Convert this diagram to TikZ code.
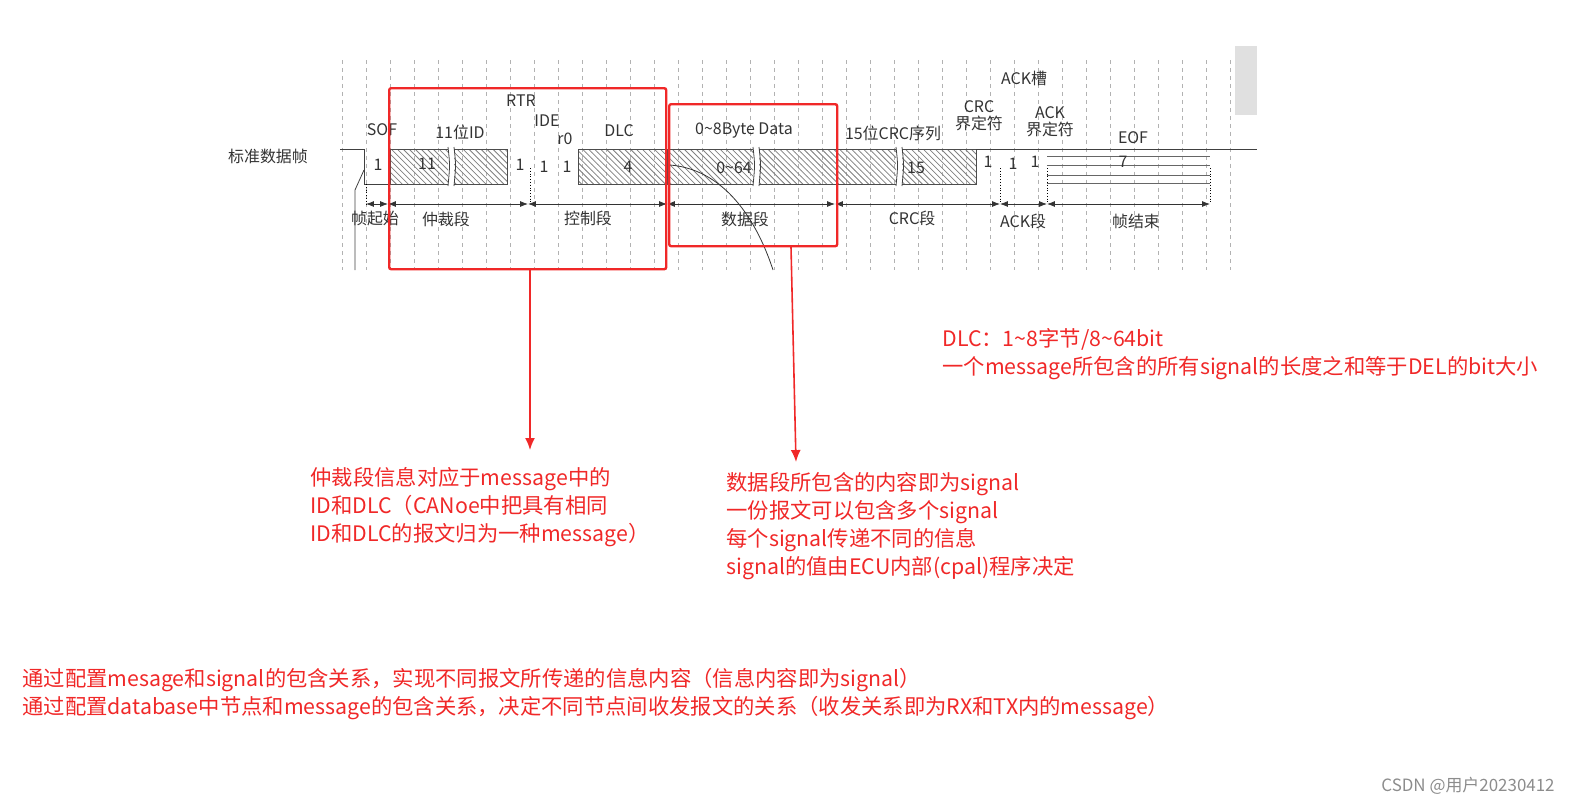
\documentclass[tikz,border=0pt]{standalone}
\usepackage{fontspec}
\setmainfont{Noto Sans CJK SC}
\usetikzlibrary{patterns,arrows.meta}
\definecolor{cred}{RGB}{240,40,40}
\begin{document}
\begin{tikzpicture}[x=0.5bp,y=-0.5bp,
 lbl/.style={font=\fontsize{8}{8.5}\selectfont,inner sep=0pt,text=black!80},
 rt/.style={font=\fontsize{10.7}{14}\selectfont,inner sep=0pt,text=cred,align=left,anchor=north west},
 hb/.style={draw=black!70,pattern=north west lines,pattern color=black!50},
 dim/.style={black!80,{Latex[length=4pt]}-{Latex[length=4pt]}},
 rbox/.style={draw=cred,line width=1.2pt,rounded corners=1pt},
 rarr/.style={cred,line width=0.8pt,-{Latex[length=6pt,width=5pt]}}]
\useasboundingbox (0,0) rectangle (1578,810);
\fill[black!12] (1235,46) rectangle (1257,115);
\foreach \x in {342,366,390,414,438,462,486,510,534,558,582,606,630,654,678,702,726,750,774,798,822,846,870,894,918,942,966,990,1014,1038,1062,1086,1110,1134,1158,1182,1206,1230}
  \draw[black!30,dashed,dash pattern=on 2pt off 2pt] (\x,60) -- (\x,270);
% waveform
\draw[black!75] (340,149) -- (364,149) -- (364,184) -- (390,184);
\draw[black!75] (355,270) -- (355,190) -- (364,170);
\draw[hb] (390,149) rectangle (507,184);
\draw[hb] (578,149) rectangle (667,184);
\draw[hb] (667,149) rectangle (836,184);
\draw[hb] (836,149) rectangle (976,184);
\draw[black!75] (976,149) -- (1257,149);
\foreach \x in {451,756,899}{\fill[white] (\x-3,147) rectangle (\x+3,186);
  \draw[black!75] (\x-3,147) .. controls (\x-1,165) .. (\x-3,186); \draw[black!75] (\x+3,147) .. controls (\x+5,165) .. (\x+3,186);}
\foreach \y in {156,165,175,183} \draw[black!60] (1047,\y) -- (1210,\y);
\foreach \x in {530,1000,1047,1210} \draw[black,densely dotted] (\x,168) -- (\x,204);
\draw[black,densely dotted] (366,184) -- (366,204);
% dimension arrows
\coordinate (p0) at (366,204);\coordinate (p1) at (388,204);\coordinate (p2) at (528,204);
\coordinate (p3) at (667,204);\coordinate (p4) at (835,204);\coordinate (p5) at (1000,204);
\coordinate (p6) at (1047,204);\coordinate (p7) at (1210,204);
\draw[dim] (p0)--(p1); \draw[dim] (p1)--(p2); \draw[dim] (p2)--(p3); \draw[dim] (p3)--(p4);
\draw[dim] (p4)--(p5); \draw[dim] (p5)--(p6); \draw[dim] (p6)--(p7);
% labels
\node[lbl] (t0) at (268,156) {标准数据帧};
\node[lbl] at (382,130) {SOF}; \node[lbl] at (460,132) {11位ID};
\node[lbl] at (521,101) {RTR}; \node[lbl] at (547,121) {IDE}; \node[lbl] at (565,139) {r0};
\node[lbl] at (619,131) {DLC}; \node[lbl] at (744,131) {0\textasciitilde8Byte Data};
\node[lbl] at (893,133) {15位CRC序列};
\node[lbl,align=center] at (979,116) {CRC\\界定符};
\node[lbl,align=center] at (1050,122) {ACK\\界定符};
\node[lbl] at (1024,78) {ACK槽}; \node[lbl] at (1133,138) {EOF};
\node[lbl] at (378,165) {1}; \node[lbl] at (427,164) {11};
\node[lbl] at (520,165) {1}; \node[lbl] at (544,167) {1}; \node[lbl] at (567,167) {1};
\node[lbl] at (628,167) {4}; \node[lbl] at (734,168) {0\textasciitilde64};
\node[lbl] at (916,168) {15}; \node[lbl] at (988,162) {1}; \node[lbl] at (1013,164) {1};
\node[lbl] at (1035,162) {1}; \node[lbl] at (1123,162) {7};
\node[lbl] at (375,218) {帧起始}; \node[lbl] at (446,219) {仲裁段}; \node[lbl] at (588,218) {控制段};
\node[lbl] at (745,219) {数据段}; \node[lbl] at (912,218) {CRC段}; \node[lbl] at (1023,221) {ACK段};
\node[lbl] at (1136,221) {帧结束};
\draw[black!80] (670,165) .. controls (730,170) and (760,230) .. (773,270);
% red boxes & arrows
\node[rbox,minimum width=138.5bp,minimum height=90.5bp,anchor=north west,inner sep=0pt] (b1) at (388,87) {};
\node[rbox,minimum width=84bp,minimum height=71bp,anchor=north west,inner sep=0pt] (b2) at (668,103) {};
\coordinate (a1s) at (530,270); \coordinate (a1e) at (530,450);
\coordinate (a2s) at (791,247); \coordinate (a2e) at (796,462);
\draw[rarr] (a1s) -- (a1e); \draw[rarr] (a2s) -- (a2e);
\node[rt] at (310,467) {仲裁段信息对应于message中的\\ID和DLC（CANoe中把具有相同\\ID和DLC的报文归为一种message）};
\node[rt] at (726,472) {数据段所包含的内容即为signal\\一份报文可以包含多个signal\\每个signal传递不同的信息\\signal的值由ECU内部(cpal)程序决定};
\node[rt] at (942,328) {DLC：1\textasciitilde8字节/8\textasciitilde64bit\\一个message所包含的所有signal的长度之和等于DEL的bit大小};
\node[rt] at (22,668) {通过配置mesage和signal的包含关系，实现不同报文所传递的信息内容（信息内容即为signal）\\通过配置database中节点和message的包含关系，决定不同节点间收发报文的关系（收发关系即为RX和TX内的message）};
\node[font=\fontsize{8.5}{9}\selectfont,text=black!45,anchor=east,inner sep=0pt] at (1555,786) {CSDN @用户20230412};
\end{tikzpicture}
\end{document}
